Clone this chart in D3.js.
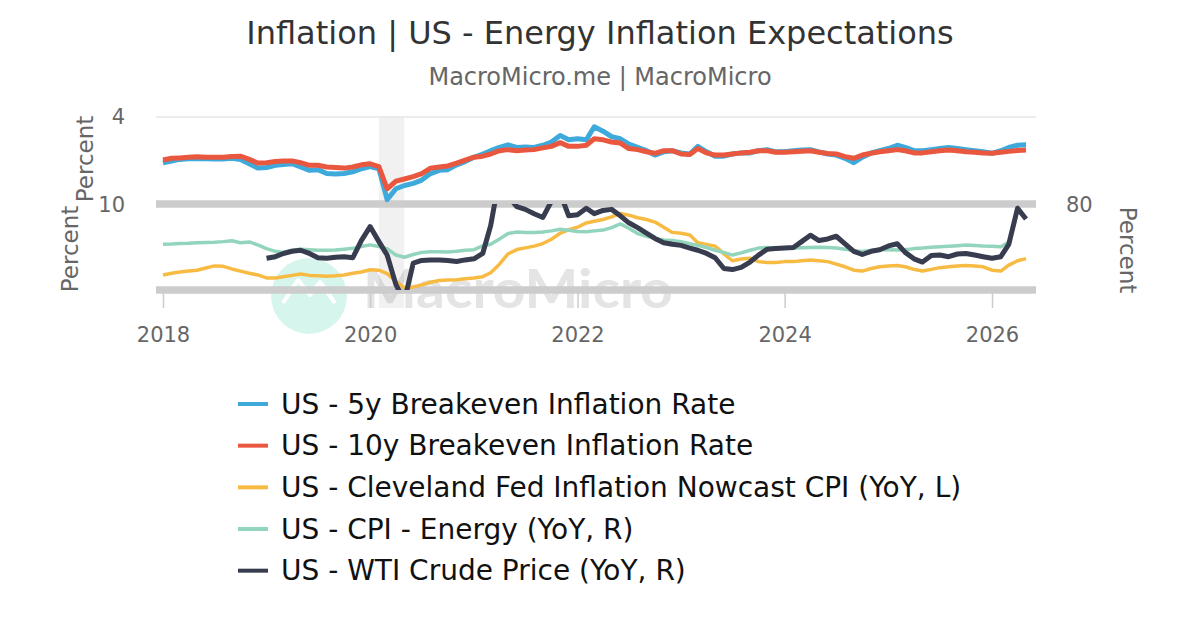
<!DOCTYPE html>
<html>
<head>
<meta charset="utf-8">
<script src="https://d3js.org/d3.v7.min.js"></script>
<style>
body { margin: 0; background: #fff; }
svg { display: block; font-family: "DejaVu Sans", sans-serif; }
.axis path.domain { display: none; }
.axis .tick text { fill: #666; font-size: 21px; font-family: "DejaVu Sans", sans-serif; }
.xaxis .tick line { stroke: #ccc; stroke-width: 1.5px; }
</style>
</head>
<body>
<svg width="1200" height="630"></svg>
<script>

// monthly readings, first value = Jan 2018
var startMonth = new Date(2018, 0, 1);
// WTI series starts Jan 2019
var wtiStartMonth = new Date(2019, 0, 1);

var xTickYears = [2018, 2020, 2022, 2024, 2026];

var be5y = [
	1.90, 1.98, 2.05, 2.08, 2.08, 2.08, 2.07, 2.07, 2.10, 2.05, 1.85, 1.65,
	1.68, 1.78, 1.82, 1.85, 1.70, 1.55, 1.58, 1.40, 1.38, 1.40, 1.48, 1.62,
	1.72, 1.62, 0.20, 0.70, 0.85, 0.95, 1.10, 1.40, 1.55, 1.58, 1.80, 1.95,
	2.15, 2.30, 2.45, 2.60, 2.72, 2.60, 2.62, 2.60, 2.70, 2.85, 3.15, 2.95,
	3.00, 2.95, 3.55, 3.35, 3.10, 3.00, 2.75, 2.60, 2.45, 2.25, 2.40, 2.45,
	2.35, 2.30, 2.65, 2.40, 2.20, 2.20, 2.30, 2.35, 2.35, 2.45, 2.50, 2.40,
	2.40, 2.45, 2.48, 2.50, 2.40, 2.30, 2.25, 2.10, 1.90, 2.15, 2.35, 2.45,
	2.55, 2.70, 2.60, 2.45, 2.45, 2.50, 2.55, 2.60, 2.55, 2.50, 2.45, 2.40,
	2.33, 2.45, 2.60, 2.70, 2.72
];

var be10y = [
	2.02, 2.10, 2.12, 2.15, 2.17, 2.15, 2.15, 2.15, 2.18, 2.20, 2.05, 1.88,
	1.90, 1.95, 1.98, 1.98, 1.90, 1.78, 1.78, 1.70, 1.68, 1.65, 1.70, 1.80,
	1.85, 1.72, 0.70, 1.05, 1.15, 1.26, 1.40, 1.65, 1.70, 1.75, 1.88, 2.02,
	2.15, 2.20, 2.30, 2.45, 2.50, 2.45, 2.48, 2.50, 2.58, 2.65, 2.82, 2.65,
	2.65, 2.70, 3.00, 2.95, 2.85, 2.80, 2.55, 2.50, 2.40, 2.33, 2.45, 2.45,
	2.30, 2.28, 2.55, 2.35, 2.25, 2.25, 2.30, 2.35, 2.38, 2.45, 2.45, 2.38,
	2.38, 2.40, 2.42, 2.45, 2.38, 2.32, 2.30, 2.18, 2.10, 2.25, 2.33, 2.40,
	2.45, 2.50, 2.45, 2.35, 2.35, 2.40, 2.45, 2.48, 2.45, 2.40, 2.38, 2.35,
	2.33, 2.38, 2.42, 2.46, 2.48
];

var clevelandCpi = [
	1.75, 1.95, 2.10, 2.20, 2.30, 2.55, 2.80, 2.75, 2.45, 2.20, 1.95, 1.75,
	1.40, 1.40, 1.55, 1.70, 1.85, 1.70, 1.65, 1.60, 1.65, 1.75, 1.95, 2.10,
	2.35, 2.30, 1.90, 1.00, 0.25, 0.35, 0.60, 0.90, 1.10, 1.15, 1.20, 1.30,
	1.40, 1.55, 2.00, 3.00, 4.20, 4.70, 4.90, 5.10, 5.40, 5.90, 6.60, 7.00,
	7.30, 7.80, 8.00, 8.20, 8.50, 8.90, 8.70, 8.40, 8.20, 7.90, 7.30, 6.70,
	6.60, 6.40, 5.50, 5.30, 5.10, 4.20, 3.40, 3.60, 3.70, 3.30, 3.20, 3.20,
	3.30, 3.30, 3.40, 3.50, 3.40, 3.30, 3.00, 2.70, 2.30, 2.20, 2.50, 2.70,
	2.80, 2.85, 2.70, 2.40, 2.20, 2.40, 2.60, 2.70, 2.80, 2.85, 2.80, 2.70,
	2.30, 2.20, 2.90, 3.40, 3.65
];

var cpiEnergy = [
	5.0, 5.5, 6.5, 7.0, 8.0, 8.5, 9.0, 10.0, 11.5, 8.0, 9.5, 4.0,
	-3.0, -8.0, -10.0, -6.0, -4.0, -5.0, -6.0, -6.0, -5.5, -4.0, -2.5, 1.0,
	4.0, 1.0, -3.0, -15.0, -19.0, -14.0, -10.0, -9.0, -9.0, -9.5, -8.0, -6.0,
	-5.0, 2.0, 5.0, 15.0, 25.0, 28.0, 27.0, 27.0, 28.0, 30.0, 33.0, 31.0,
	29.0, 28.5, 30.0, 31.5, 36.0, 43.0, 35.0, 25.0, 20.0, 16.0, 13.0, 12.0,
	10.0, 6.0, 3.0, -1.0, -6.0, -10.0, -15.0, -11.0, -6.0, -2.0, -1.0, -2.0,
	-2.5, -2.0, -1.5, -1.0, -0.5, -1.0, -2.0, -4.0, -7.0, -8.5, -6.5, -5.0,
	-5.0, -5.5, -5.0, -3.0, -2.0, -0.5, 0.5, 1.5, 2.5, 3.5, 3.0, 2.0,
	1.5, 0.5, 9.0
];

var wtiCrude = [
	-21, -18, -12, -8, -6, -12, -20, -21, -19, -18, -20, 12,
	38, 10, -15, -70, -100, -30, -25, -24, -24, -25, -27, -24,
	-22, -12, 40, 130, 95, 75, 70, 62, 55, 85, 100, 58,
	60, 72, 62, 68, 70, 58, 45, 36, 26, 16, 8, 5,
	3, -2, -6, -12, -20, -40, -42, -38, -28, -15, -4, -3,
	-2, -1, 10, 22, 12, 15, 20, 6, -8, -14, -8, -5,
	2, 6, -10, -22, -28, -16, -15, -18, -13, -12, -15, -18,
	-21, -18, 5, 72, 52
];

// recession shading
var recession = [new Date(2020, 1, 1), new Date(2020, 3, 30)];

var legendNames = [
	"US - 5y Breakeven Inflation Rate",
	"US - 10y Breakeven Inflation Rate",
	"US - Cleveland Fed Inflation Nowcast CPI (YoY, L)",
	"US - CPI - Energy (YoY, R)",
	"US - WTI Crude Price (YoY, R)"
];
var colors = ["#3eaadc", "#e9573f", "#f7bb44", "#92d5bc", "#383c4f"];

var svg = d3.select("svg");

var plotLeft = 156, plotRight = 1036;
var topPane = {top: 117, bottom: 204};
var lowPane = {top: 204, bottom: 290};

var x = d3.scaleTime()
	.domain([new Date(2018, 0, 1), new Date(2026, 0, 1)])
	.range([163, 992]);

var yTop = d3.scaleLinear().domain([0, 4]).range([topPane.bottom, topPane.top]);
var yLeft = d3.scaleLinear().domain([0, 10]).range([lowPane.bottom, lowPane.top]);
var yRight = d3.scaleLinear().domain([-80, 80]).range([lowPane.bottom, lowPane.top]);

function toPoints(values, first) {
	return values.map(function(v, i) {
		return {date: d3.timeMonth.offset(first, i), value: v};
	});
}

// title
svg.append("text")
	.attr("x", 600).attr("y", 44)
	.attr("text-anchor", "middle")
	.attr("font-size", 32)
	.attr("fill", "#333")
	.text("Inflation | US - Energy Inflation Expectations");

svg.append("text")
	.attr("x", 600).attr("y", 85)
	.attr("text-anchor", "middle")
	.attr("font-size", 24)
	.attr("fill", "#666")
	.text("MacroMicro.me | MacroMicro");

// watermark
var wm = svg.append("g").attr("class", "watermark");
wm.append("circle")
	.attr("cx", 309).attr("cy", 296).attr("r", 38)
	.attr("fill", "#d6f6ed");
wm.append("polyline")
	.attr("points", "283,303 298,280 310,295 320,282 335,303")
	.attr("fill", "none")
	.attr("stroke", "#fff")
	.attr("stroke-width", 4)
	.attr("stroke-linejoin", "round");
wm.append("text")
	.attr("x", 363).attr("y", 308)
	.attr("font-family", "Lato, 'Open Sans', sans-serif")
	.attr("font-weight", "bold")
	.attr("font-size", 53)
	.attr("textLength", 310)
	.attr("lengthAdjust", "spacingAndGlyphs")
	.attr("fill", "#e4e4e4")
	.text("MacroMicro");

// recession band
svg.append("rect")
	.attr("x", x(recession[0]))
	.attr("y", topPane.top)
	.attr("width", x(recession[1]) - x(recession[0]))
	.attr("height", 308 - topPane.top)
	.attr("fill", "rgba(0,0,0,0.055)");

// grid line at top, thick axis lines between panes
svg.append("line")
	.attr("x1", plotLeft).attr("x2", plotRight)
	.attr("y1", topPane.top).attr("y2", topPane.top)
	.attr("stroke", "#e6e6e6").attr("stroke-width", 1.5);

[topPane.bottom, lowPane.bottom].forEach(function(yy) {
	svg.append("line")
		.attr("x1", plotLeft).attr("x2", plotRight)
		.attr("y1", yy).attr("y2", yy)
		.attr("stroke", "#cccccc").attr("stroke-width", 7.5);
});

// x axis
var xAxis = d3.axisBottom(x)
	.tickValues(xTickYears.map(function(yr) { return new Date(yr, 0, 1); }))
	.tickFormat(d3.timeFormat("%Y"))
	.tickSize(15);

svg.append("g")
	.attr("class", "axis xaxis")
	.attr("transform", "translate(0," + 293 + ")")
	.call(xAxis)
	.selectAll("text")
	.attr("y", 49).attr("dy", null);

// y axes
var intFmt = d3.format("d");

svg.append("g")
	.attr("class", "axis")
	.attr("transform", "translate(" + plotLeft + ",0)")
	.call(d3.axisLeft(yTop).tickValues([4]).tickFormat(intFmt).tickSize(0).tickPadding(31));

svg.append("g")
	.attr("class", "axis")
	.attr("transform", "translate(" + plotLeft + ",0)")
	.call(d3.axisLeft(yLeft).tickValues([10]).tickFormat(intFmt).tickSize(0).tickPadding(31))
	.selectAll("text").attr("dy", "0.36em");

svg.append("g")
	.attr("class", "axis")
	.attr("transform", "translate(" + plotRight + ",0)")
	.call(d3.axisRight(yRight).tickValues([80]).tickFormat(intFmt).tickSize(0).tickPadding(30))
	.selectAll("text").attr("dy", "0.36em");

// axis titles
function axisTitle(tx, ty, angle) {
	svg.append("text")
		.attr("transform", "translate(" + tx + "," + ty + ") rotate(" + angle + ")")
		.attr("text-anchor", "middle")
		.attr("font-size", 23)
		.attr("fill", "#666")
		.text("Percent");
}
axisTitle(93, 159, -90);
axisTitle(78, 249, -90);
axisTitle(1120, 250, 90);

// clip for lower pane
svg.append("clipPath")
	.attr("id", "lowClip")
	.append("rect")
	.attr("x", plotLeft).attr("y", lowPane.top)
	.attr("width", plotRight - plotLeft)
	.attr("height", lowPane.bottom - lowPane.top);

var lineTop = d3.line()
	.x(function(d) { return x(d.date); })
	.y(function(d) { return yTop(d.value); });
var lineLeft = d3.line()
	.x(function(d) { return x(d.date); })
	.y(function(d) { return yLeft(d.value); });
var lineRight = d3.line()
	.x(function(d) { return x(d.date); })
	.y(function(d) { return yRight(d.value); });

var series = [
	{pts: toPoints(be5y, startMonth), line: lineTop, color: colors[0], w: 5, clip: false},
	{pts: toPoints(be10y, startMonth), line: lineTop, color: colors[1], w: 5, clip: false},
	{pts: toPoints(clevelandCpi, startMonth), line: lineLeft, color: colors[2], w: 3.5, clip: true},
	{pts: toPoints(cpiEnergy, startMonth), line: lineRight, color: colors[3], w: 3.5, clip: true},
	{pts: toPoints(wtiCrude, wtiStartMonth), line: lineRight, color: colors[4], w: 5, clip: true}
];

series.forEach(function(s) {
	var p = svg.append("path")
		.datum(s.pts)
		.attr("d", s.line)
		.attr("fill", "none")
		.attr("stroke", s.color)
		.attr("stroke-width", s.w)
		.attr("stroke-linejoin", "round");
	if (s.clip) p.attr("clip-path", "url(#lowClip)");
});

// legend
var legend = svg.append("g").attr("class", "legend");
legendNames.forEach(function(name, i) {
	var cy = 404 + i * 41.67;
	legend.append("line")
		.attr("x1", 238).attr("x2", 268)
		.attr("y1", cy).attr("y2", cy)
		.attr("stroke", colors[i])
		.attr("stroke-width", 4);
	legend.append("text")
		.attr("x", 281).attr("y", cy + 9.8)
		.attr("font-size", 28)
		.attr("fill", "#111")
		.text(name);
});

</script>
</body>
</html>
